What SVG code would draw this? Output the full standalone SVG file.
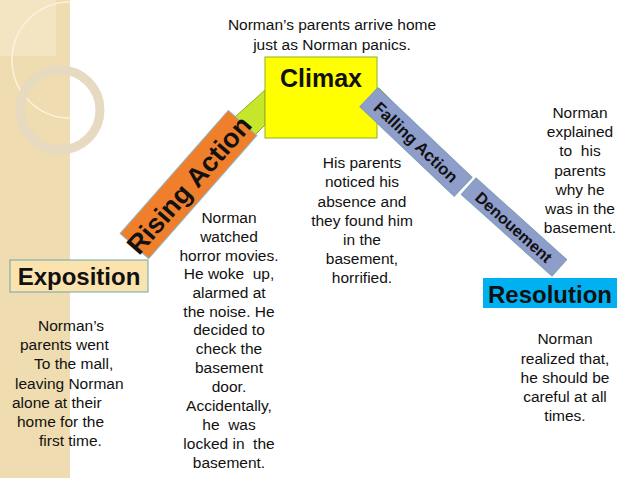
<svg xmlns="http://www.w3.org/2000/svg" width="638" height="478" viewBox="0 0 638 478">
<style>
text{font-family:"Liberation Sans",Arial,sans-serif;fill:#111;white-space:pre}
.t{font-size:15.5px;text-anchor:middle}
.l{font-size:15.5px}
.h{font-weight:bold;text-anchor:middle}
</style>
<rect width="638" height="478" fill="#fff"/>
<g id="bg">
<rect x="0" y="0" width="70" height="478" fill="#efdcb0"/>
<rect x="0" y="0" width="56" height="56" fill="#f3e4c2"/>
<path d="M70 2 A58 58 0 0 0 70 118" fill="none" stroke="#fbf3e0" stroke-width="1.5"/>
<circle cx="60" cy="110" r="40" fill="none" stroke="#e6dac0" stroke-width="9"/>
</g>
<g id="connectors">
<polygon points="235,117 265,90 265,125 255,135" fill="#c6e62b" stroke="#8fb020"/>
<polygon points="372,94 379,88 392,101 380,112" fill="#c6e62b" stroke="#8fb020"/>
</g>
<g id="climax">
<rect x="265" y="57" width="112" height="81" fill="#ffff00" stroke="#8fb020"/>
<text x="321" y="87" class="h" font-size="25">Climax</text>
</g>
<g id="rising" transform="translate(188.5,184.5) rotate(-48.7)">
<rect x="-82" y="-19" width="164" height="38" fill="#f07f2c" stroke="#8ab8c8"/>
<text x="0" y="10" class="h" font-size="27">Rising Action</text>
</g>
<g id="falling" transform="translate(416,142) rotate(43.5)">
<rect x="-65" y="-13" width="130" height="26" fill="#8e9dc9" stroke="#7aa0b8"/>
<text x="0" y="6" class="h" font-size="16.5">Falling Action</text>
</g>
<g id="denouement" transform="translate(514,227) rotate(42)">
<rect x="-61" y="-11" width="122" height="22" fill="#8e9dc9" stroke="#7aa0b8"/>
<text x="0" y="6" class="h" font-size="16">Denouement</text>
</g>
<g id="exposition">
<rect x="10" y="260" width="138" height="32" fill="#fbe3b0" stroke="#6aa8a8"/>
<text x="79" y="285" class="h" font-size="24">Exposition</text>
</g>
<g id="resolution">
<rect x="483" y="278" width="134" height="30" fill="#00b0f0"/>
<text x="550" y="303" class="h" font-size="24">Resolution</text>
</g>
<g id="texts">
<text class="t" x="332" y="30">Norman’s parents arrive home</text>
<text class="t" x="332" y="50">just as Norman panics.</text>
<text class="t"><tspan x="229" y="223">Norman</tspan><tspan x="229" y="242">watched</tspan><tspan x="229" y="261">horror movies.</tspan><tspan x="229" y="279">He woke  up,</tspan><tspan x="229" y="298">alarmed at</tspan><tspan x="229" y="317">the noise. He</tspan><tspan x="229" y="335">decided to</tspan><tspan x="229" y="354">check the</tspan><tspan x="229" y="373">basement</tspan><tspan x="229" y="392">door.</tspan><tspan x="229" y="411">Accidentally,</tspan><tspan x="229" y="430">he  was</tspan><tspan x="229" y="449">locked in  the</tspan><tspan x="229" y="468">basement.</tspan></text>
<text class="t"><tspan x="362" y="168">His parents</tspan><tspan x="362" y="187">noticed his</tspan><tspan x="362" y="207">absence and</tspan><tspan x="362" y="226">they found him</tspan><tspan x="362" y="245">in the</tspan><tspan x="362" y="264">basement,</tspan><tspan x="362" y="283">horrified.</tspan></text>
<text class="t"><tspan x="580" y="118">Norman</tspan><tspan x="580" y="137">explained</tspan><tspan x="580" y="156">to  his</tspan><tspan x="580" y="176">parents</tspan><tspan x="580" y="195">why he</tspan><tspan x="580" y="214">was in the</tspan><tspan x="580" y="233">basement.</tspan></text>
<text class="t"><tspan x="565" y="344">Norman</tspan><tspan x="565" y="364">realized that,</tspan><tspan x="565" y="383">he should be</tspan><tspan x="565" y="402">careful at all</tspan><tspan x="565" y="421">times.</tspan></text>
<text class="l"><tspan x="38" y="331">Norman’s</tspan><tspan x="20" y="350">parents went</tspan><tspan x="34" y="369">To the mall,</tspan><tspan x="15" y="389">leaving Norman</tspan><tspan x="12" y="408">alone at their</tspan><tspan x="17" y="427">home for the</tspan><tspan x="39" y="446">first time.</tspan></text>
</g>
</svg>
